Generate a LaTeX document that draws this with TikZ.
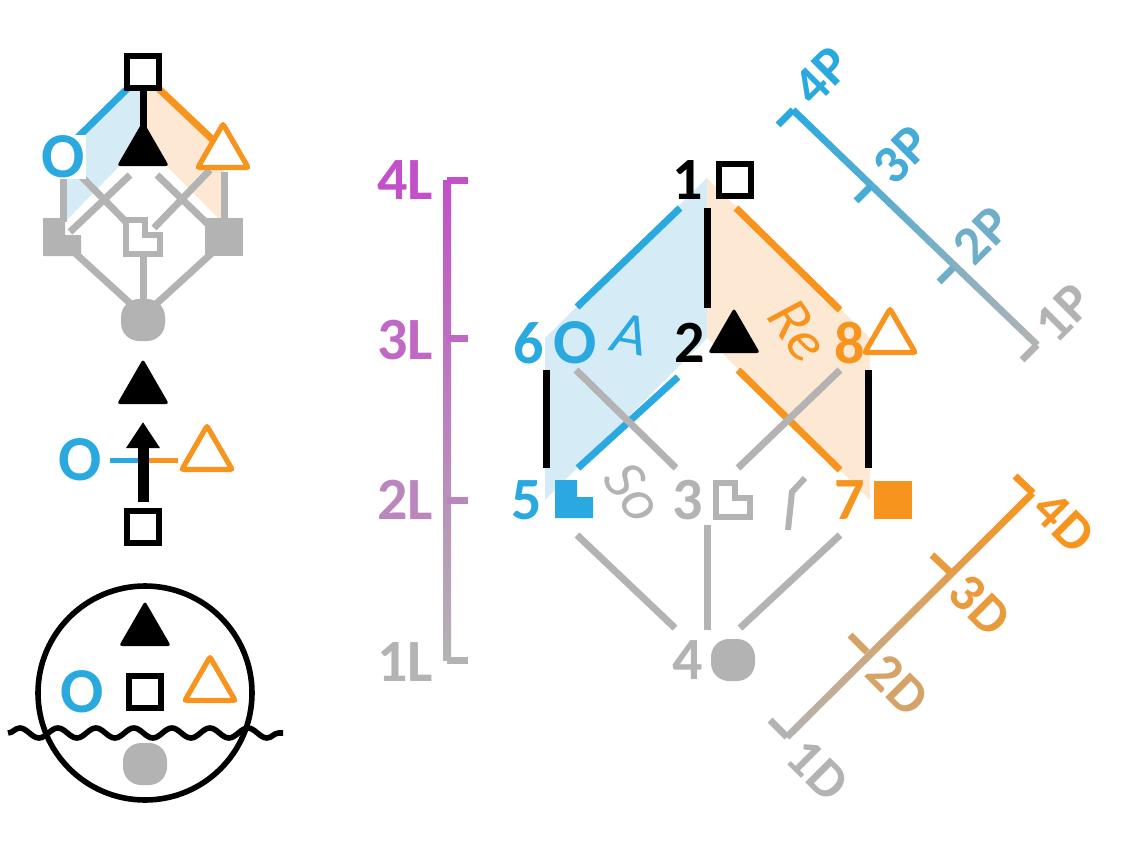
\documentclass[tikz,border=0pt]{standalone}
\usepackage{fontspec}
\setmainfont{Carlito}
\usetikzlibrary{shapes.geometric,decorations.pathmorphing,arrows.meta}
\definecolor{cb}{HTML}{29A9E0}
\definecolor{co}{HTML}{F7941D}
\definecolor{cg}{HTML}{B3B3B3}
\definecolor{lb}{HTML}{D5ECF7}
\definecolor{lo}{HTML}{FDE9D3}
\definecolor{cmag}{HTML}{C34FC9}
\begin{document}
\begin{tikzpicture}[x=0.5pt,y=-0.5pt,
  lab/.style={font=\fontsize{30}{30}\selectfont\bfseries, inner sep=0pt},
  slab/.style={font=\fontsize{27}{27}\selectfont\bfseries, inner sep=0pt},
  osym/.style={font=\fontsize{32}{32}\selectfont\bfseries, inner sep=0pt, text=cb},
  sq/.style={draw=black, line width=3pt, minimum size=16pt, inner sep=0pt},
  ftri/.style={regular polygon, regular polygon sides=3, fill=black, rounded corners=1.5pt, minimum size=30pt, inner sep=0pt},
  otri/.style={regular polygon, regular polygon sides=3, draw=co, line width=2.6pt, rounded corners=1pt, minimum size=29pt, inner sep=0pt},
  blob/.style={fill=cg, rounded corners=9pt, minimum width=22pt, minimum height=21pt, inner sep=0pt},
  fsq/.style={minimum size=19pt, inner sep=0pt},
  ed/.style={line width=3.5pt},
  lsh/.pic={\path[pic actions] (-19,-19)--(3,-19)--(3,-2)--(19,-2)--(19,19)--(-19,19)--cycle;},
  lsho/.pic={\path[pic actions] (-17,-17)--(2,-17)--(2,-2)--(17,-2)--(17,17)--(-17,17)--cycle;}]
\useasboundingbox (0,0) rectangle (1130,857);

% ===== main lattice fills =====
\fill[lb] (545,338)--(707,178)--(707,338)--(545,500)--cycle;
\fill[lo] (870,338)--(707,178)--(707,338)--(870,500)--cycle;
% edges
\draw[ed,color=cb] (680,208)--(577,307);
\draw[ed,color=cb] (678,377)--(578,468);
\draw[ed,color=co] (736,208)--(840,310);
\draw[ed,color=co] (738,370)--(840,470);
\draw[ed,black] (707,208)--(707,308);
\draw[ed,black] (546,370)--(546,468);
\draw[ed,black] (868,370)--(868,468);
\draw[ed,color=cg] (576,370)--(676,468);
\draw[ed,color=cg] (840,370)--(738,468);
\draw[ed,color=cg] (577,535)--(675,628);
\draw[ed,color=cg] (707,525)--(707,630);
\draw[ed,color=cg] (840,535)--(740,628);
% nodes
\node[lab] (n1l) at (688,180) {1};
\node[sq] (n1) at (735,180) {};
\node[lab] (n2l) at (690,343) {2};
\node[ftri] (n2) at (734,338) {};
\node[lab,text=cb] (n6l) at (529,343) {6};
\node[osym] (n6) at (575,343) {O};
\node[lab,text=co] (n8l) at (850,343) {8};
\node[otri] (n8) at (890,338) {};
\node[lab,text=cb] (n5l) at (527,500) {5};
\pic[fill=cb] at (574,499) {lsh};
\node[lab,text=cg] (n3l) at (688,500) {3};
\pic[draw=cg, line width=2.6pt] at (733,500) {lsho};
\node[lab,text=co] (n7l) at (850,500) {7};
\node[fsq, fill=co] (n7) at (893,500) {};
\node[lab,text=cg] (n4l) at (688,660) {4};
\node[blob] (n4) at (733,660) {};
% handwriting
\node[text=cb, rotate=-10, font=\fontsize{30}{30}\selectfont\itshape] (hA) at (630,335) {A};
\node[text=co, rotate=-55, font=\fontsize{30}{30}\selectfont\itshape] (hR) at (798,330) {Re};
\node[text=cg, rotate=-55, font=\fontsize{30}{30}\selectfont\itshape] (hS) at (634,492) {So};
\draw[color=cg, line width=3pt] (805,478)--(792,492)--(788,530);

% ===== L scale =====
\shade[top color=cmag, bottom color=cg] (443,180) rectangle (451,660);
\draw[ed,color=cmag] (447,180)--(468,180);
\draw[ed,color=cmag!75!cg] (447,338)--(468,338);
\draw[ed,color=cmag!45!cg] (447,500)--(468,500);
\draw[ed,color=cg] (447,660)--(468,660);
\node[lab,text=cmag] (L4) at (405,180) {4L};
\node[lab,text=cmag!75!cg] (L3) at (405,340) {3L};
\node[lab,text=cmag!45!cg] (L2) at (405,500) {2L};
\node[lab,text=cg] (L1) at (405,662) {1L};

% ===== P scale =====
\begin{scope}[shift={(793,110)}, rotate=-43.9]
\shade[left color=cb, right color=cg] (0,-3.5) rectangle (339,3.5);
\end{scope}
\draw[ed,color=cb] (793,110)--(778,125);
\draw[ed,color=cb!80!cg] (870,187)--(856,201);
\draw[ed,color=cb!50!cg] (953,268)--(939,282);
\draw[ed,color=cg] (1037,345)--(1022,360);
\node[slab,text=cb,rotate=45] (P4) at (822,76) {4P};
\node[slab,text=cb!80!cg,rotate=45] (P3) at (902,155) {3P};
\node[slab,text=cb!50!cg,rotate=45] (P2) at (982,235) {2P};
\node[slab,text=cg,rotate=45] (P1) at (1064,313) {1P};

% ===== D scale =====
\begin{scope}[shift={(787,737)}, rotate=44.8]
\shade[left color=cg, right color=co] (0,-3.5) rectangle (346,3.5);
\end{scope}
\draw[ed,color=co] (1033,493)--(1015,476);
\draw[ed,color=co!80!cg] (950,572)--(932,555);
\draw[ed,color=co!50!cg] (867,652)--(850,635);
\draw[ed,color=cg] (787,737)--(770,720);
\node[slab,text=co,rotate=-45] (D4) at (1064,522) {4D};
\node[slab,text=co!80!cg,rotate=-45] (D3) at (980,605) {3D};
\node[slab,text=co!50!cg,rotate=-45] (D2) at (898,685) {2D};
\node[slab,text=cg,rotate=-45] (D1) at (818,770) {1D};

% ===== small lattice (top left) =====
\fill[lb] (63,148)--(143,72)--(143,142)--(63,224)--cycle;
\fill[lo] (224,148)--(143,72)--(143,142)--(224,224)--cycle;
\draw[ed,color=cb] (128,88)--(75,140);
\draw[ed,color=co] (158,88)--(213,140);
\draw[ed,black] (143,90)--(143,135);
\draw[ed,color=cg] (63,172)--(63,222);
\draw[ed,color=cg] (224,172)--(224,222);
\draw[ed,color=cg] (75,170)--(132,228);
\draw[ed,color=cg] (210,170)--(154,228);
\draw[ed,color=cg] (130,175)--(70,232);
\draw[ed,color=cg] (157,175)--(216,232);
\draw[ed,color=cg] (75,253)--(132,305);
\draw[ed,color=cg] (143,252)--(143,300);
\draw[ed,color=cg] (212,253)--(155,305);
\node[sq,fill=white] (s1) at (143,72) {};
\node[osym,fill=white,inner sep=0.5pt] (sO) at (63,157) {O};
\node[ftri] (sT) at (143,151) {};
\node[otri,fill=white] (sTo) at (223,153) {};
\pic[fill=cg] at (62,237) {lsh};
\node[fsq, fill=cg] (sR) at (224,237) {};
\pic[draw=cg, fill=white, line width=2.6pt] at (143,237) {lsho};
\node[blob] (sB) at (143,320) {};

% ===== middle arrow =====
\node[ftri] (mT) at (143,389) {};
\draw[line width=2.5pt,color=cb] (110,460)--(143,460);
\draw[line width=2.5pt,color=co] (143,460)--(178,460);
\draw[line width=5.5pt,-{Triangle[width=16pt,length=13pt]}] (143,502)--(143,422);
\node[osym] (mO) at (80,460) {O};
\node[otri] (mTo) at (207,455) {};
\node[sq] (mS) at (143,527) {};

% ===== bottom circle =====
\draw[line width=2.8pt] (145,693) circle[radius=107];
\node[ftri] (cT) at (145,631) {};
\node[osym] (cO) at (82,692) {O};
\node[sq] (cS) at (145,692) {};
\node[otri] (cTo) at (210,686) {};
\draw[line width=2.8pt, decorate, decoration={snake, amplitude=2.5pt, segment length=19pt}] (8,733)--(283,733);
\node[blob] (cB) at (145,764) {};
\end{tikzpicture}
\end{document}
